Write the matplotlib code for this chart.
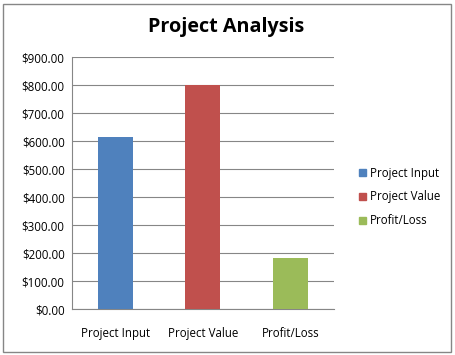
import matplotlib.pyplot as plt
from matplotlib.patches import Rectangle
from matplotlib.ticker import FuncFormatter

categories = ['Project Input', 'Project Value', 'Profit/Loss']
values = [615, 800, 185]
colors = ['#4F81BD', '#C0504D', '#9BBB59']
y_ticks = [0, 100, 200, 300, 400, 500, 600, 700, 800, 900]

plt.rcParams['font.family'] = ['Open Sans', 'DejaVu Sans']

W, H = 455, 355
fig = plt.figure(figsize=(W / 100, H / 100), dpi=100)
ax = fig.add_axes([71.5 / W, 1 - 309.3 / H, (334.3 - 71.5) / W, (309.3 - 57.3) / H])

x = range(len(categories))
ax.bar(x, values, width=0.4, color=colors, zorder=3, label=categories)
ax.set_xlim(-0.5, 2.5)
ax.set_ylim(0, 900)
ax.set_yticks(y_ticks)
ax.yaxis.set_major_formatter(FuncFormatter(lambda v, p: f'${v:,.2f}'))
ax.set_xticks(list(x))
ax.set_xticklabels(categories)
ax.grid(axis='y', color='#868686', linewidth=0.8, zorder=0)
for s in ['top', 'right']:
    ax.spines[s].set_visible(False)
ax.spines['left'].set_color('#868686')
ax.spines['bottom'].set_color('#868686')
ax.tick_params(axis='both', length=0, labelsize=8.3, colors='black')
ax.tick_params(axis='y', pad=5)
ax.tick_params(axis='x', pad=13)

handles = [Rectangle((0, 0), 1, 1, color=c) for c in colors]
fig.legend(handles, categories, loc='center left', bbox_to_anchor=(349 / W, 1 - 197 / H),
           frameon=False, fontsize=8.3, handlelength=0.55, handleheight=0.55,
           handletextpad=0.35, labelspacing=0.95)

fig.text(226 / W, 1 - 27 / H, 'Project Analysis', ha='center', va='center',
         fontsize=14.2, fontweight='bold')

fig.patches.append(Rectangle((3 / W, 3 / H), 448 / W, 348 / H, transform=fig.transFigure,
                             fill=False, edgecolor='#868686', linewidth=1))

fig.savefig('out.png', dpi=100)
